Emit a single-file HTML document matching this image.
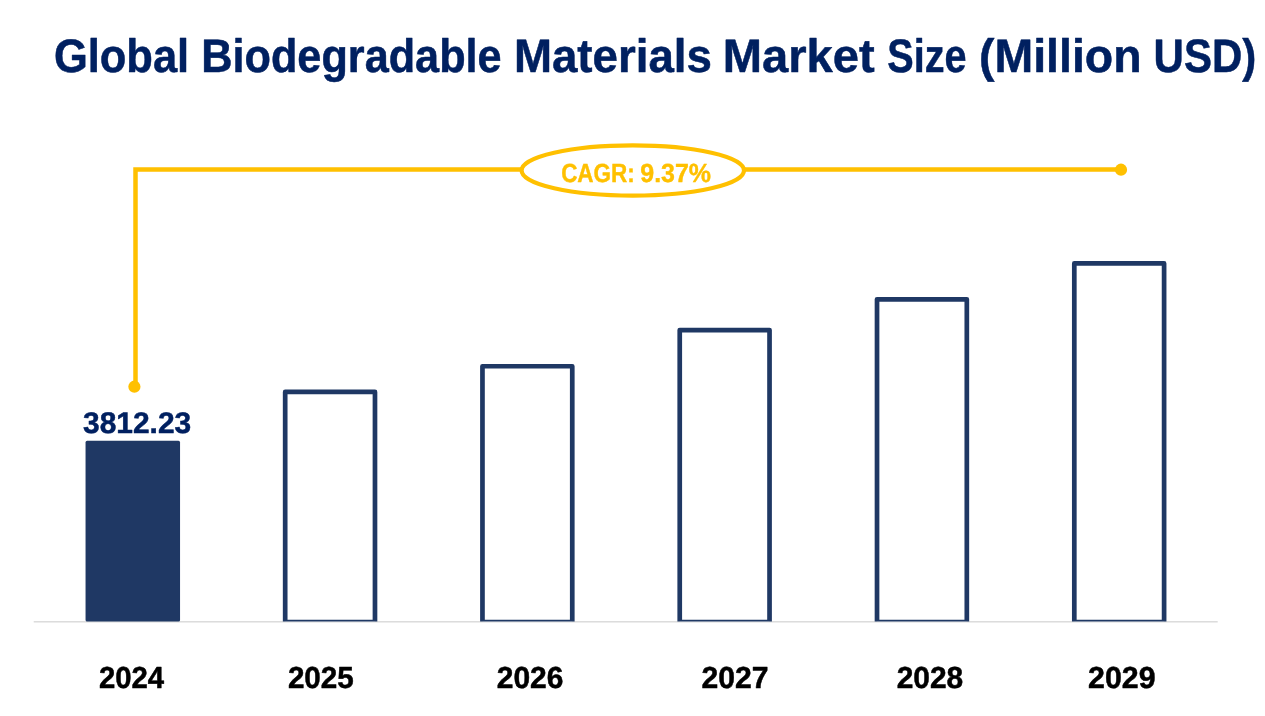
<!DOCTYPE html>
<html lang="en">
<head>
<meta charset="utf-8">
<title>Global Biodegradable Materials Market Size (Million USD)</title>
<style>
html,body{margin:0;padding:0;background:#fff;}
body{width:1265px;height:716px;overflow:hidden;}
svg{display:block;}
text{font-family:"Liberation Sans",sans-serif;font-weight:bold;text-rendering:geometricPrecision;}
</style>
</head>
<body>
<svg width="1265" height="716" viewBox="0 0 1265 716">
<rect width="1265" height="716" fill="#ffffff"/>
<g fill="#002060" stroke="#002060" stroke-width="0.5" stroke-linejoin="round" font-size="47">
<text x="53.88" y="72.0" textLength="135.31" lengthAdjust="spacingAndGlyphs">Global</text>
<text x="201.30" y="72.0" textLength="300.33" lengthAdjust="spacingAndGlyphs">Biodegradable</text>
<text x="513.90" y="72.0" textLength="198.02" lengthAdjust="spacingAndGlyphs">Materials</text>
<text x="722.76" y="72.0" textLength="151.93" lengthAdjust="spacingAndGlyphs">Market</text>
<text x="887.36" y="72.0" textLength="79.29" lengthAdjust="spacingAndGlyphs">Size</text>
<text x="979.05" y="72.0" textLength="162.55" lengthAdjust="spacingAndGlyphs">(Million</text>
<text x="1153.60" y="72.0" textLength="102.69" lengthAdjust="spacingAndGlyphs">USD)</text>
</g>
<g stroke="#FFC000" fill="none" stroke-width="4.5">
<path d="M135.5 386.7 V169.5 H1121" stroke-linejoin="miter"/>
<ellipse cx="632.8" cy="170.5" rx="111.2" ry="25.1" fill="#ffffff" stroke-width="4.2"/>
</g>
<circle cx="1121" cy="169.7" r="6.1" fill="#FFC000"/>
<circle cx="134.4" cy="386.7" r="6.1" fill="#FFC000"/>
<text y="182" font-size="26.3" fill="#FFC000" stroke="#FFC000" stroke-width="0.4" stroke-linejoin="round"><tspan x="561.13" textLength="73.72" lengthAdjust="spacingAndGlyphs">CAGR:</tspan> <tspan x="640.28" textLength="70.78" lengthAdjust="spacingAndGlyphs">9.37%</tspan></text>
<rect x="33.7" y="621.1" width="1184" height="1.4" fill="#D9D9D9"/>
<rect x="85.55" y="440.8" width="94.5" height="180.7" rx="1.6" fill="#1F3864"/>
<clipPath id="plot"><rect x="0" y="0" width="1265" height="621.5"/></clipPath>
<g fill="#ffffff" stroke="#1F3864" stroke-width="4.7" stroke-linejoin="round" clip-path="url(#plot)">
<rect x="285.18" y="391.95" width="89.8" height="230.2"/>
<rect x="482.46" y="366.25" width="89.8" height="255.9"/>
<rect x="679.74" y="330.05" width="89.8" height="292.1"/>
<rect x="877.02" y="299.35" width="89.8" height="322.8"/>
<rect x="1074.30" y="263.45" width="89.8" height="358.6"/>
</g>
<text x="83.06" y="433" font-size="29.9" fill="#002060" stroke="#002060" stroke-width="0.5" stroke-linejoin="round" textLength="108.12" lengthAdjust="spacingAndGlyphs">3812.23</text>
<g fill="#000000" stroke="#000000" stroke-width="0.5" stroke-linejoin="round" font-size="30.4">
<text x="98.96" y="688" textLength="65.22" lengthAdjust="spacingAndGlyphs">2024</text>
<text x="287.88" y="688" textLength="65.95" lengthAdjust="spacingAndGlyphs">2025</text>
<text x="496.77" y="688" textLength="66.68" lengthAdjust="spacingAndGlyphs">2026</text>
<text x="701.56" y="688" textLength="67.02" lengthAdjust="spacingAndGlyphs">2027</text>
<text x="896.66" y="688" textLength="66.56" lengthAdjust="spacingAndGlyphs">2028</text>
<text x="1088.09" y="688" textLength="67.43" lengthAdjust="spacingAndGlyphs">2029</text>
</g>
</svg>
</body>
</html>
